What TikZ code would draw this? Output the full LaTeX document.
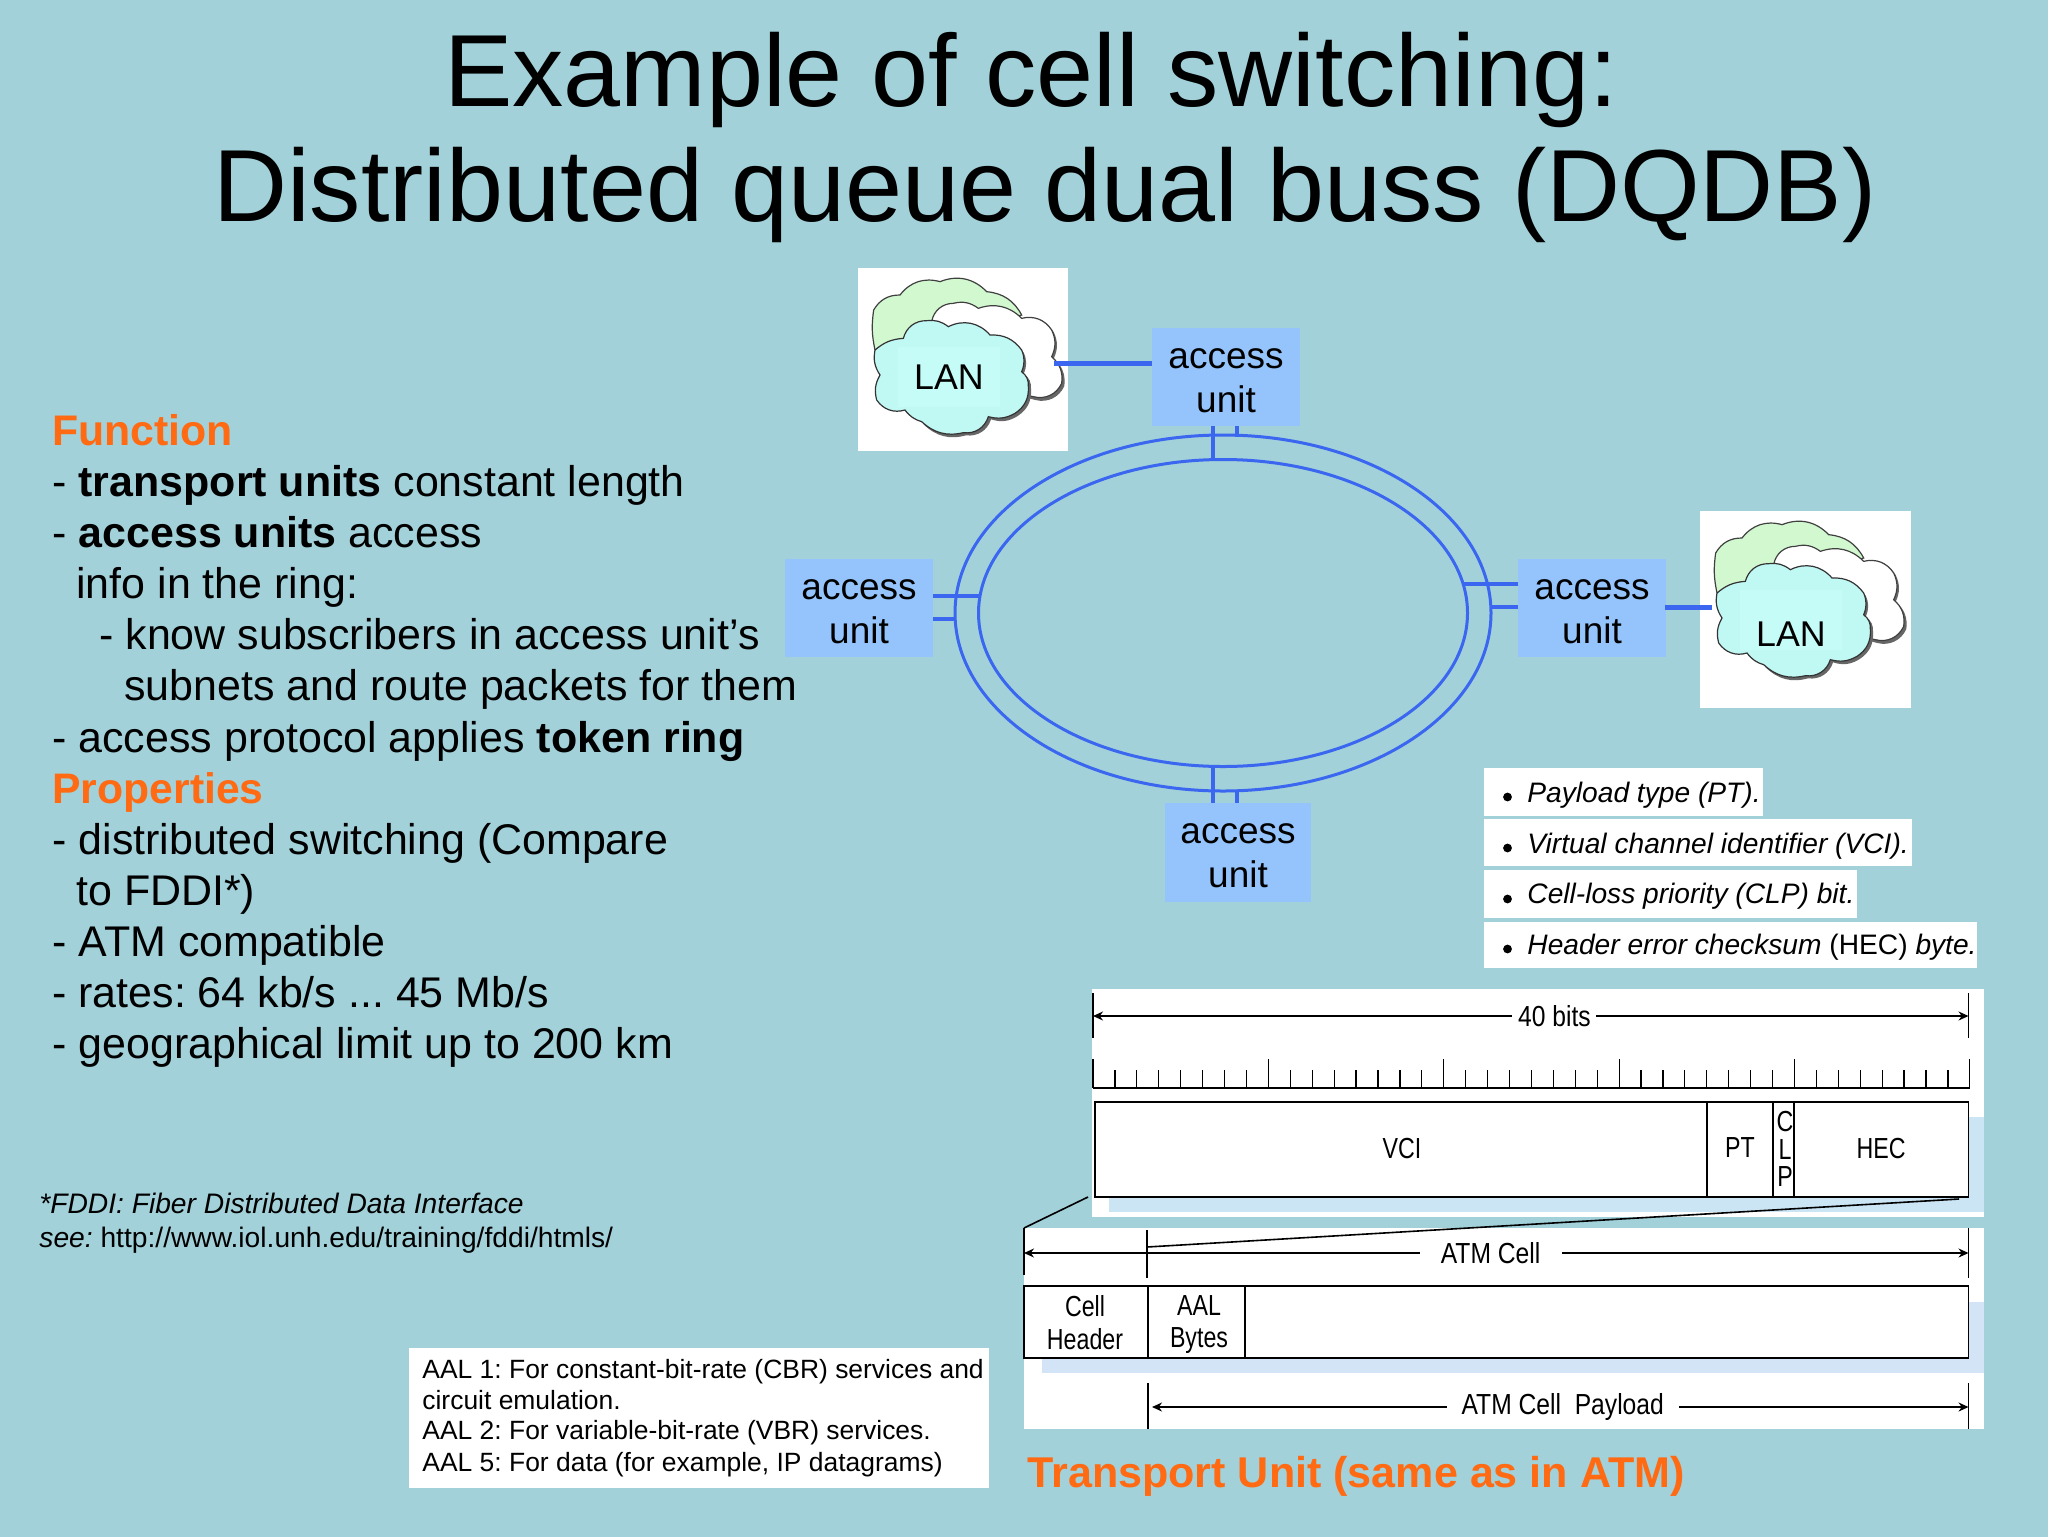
\documentclass[tikz,border=0pt]{standalone}
\usepackage{fontspec}
\setmainfont{Liberation Sans}
\newfontfamily\narrowfont[FakeStretch=0.8]{Liberation Sans}
\newfontfamily\narrowwide[FakeStretch=0.85]{Liberation Sans}
\usetikzlibrary{arrows.meta}
\frenchspacing
\definecolor{bgc}{HTML}{A2D1DA}
\definecolor{ringc}{HTML}{3A66F0}
\definecolor{auc}{HTML}{94C4FB}
\definecolor{orng}{HTML}{FF6A13}
\definecolor{shadeA}{HTML}{CBE5F5}
\definecolor{shadeB}{HTML}{D3E4F7}
\definecolor{cloudG}{HTML}{D2F8D0}
\definecolor{cloudC}{HTML}{C0F8F4}
\definecolor{cloudL}{HTML}{C5FCF8}
\newcommand{\fs}[1]{\fontsize{#1pt}{#1pt}\selectfont}
\tikzset{
  x=0.5pt,y=-0.5pt,
  txt/.style={anchor=base west,inner sep=0pt,font=\fs{21.47}},
  ttl/.style={anchor=base,inner sep=0pt,font=\fs{51.25}},
  foot/.style={anchor=base west,inner sep=0pt,font=\fs{14.1}},
  aal/.style={anchor=base west,inner sep=0pt,font=\fs{13.22}},
  bul/.style={anchor=base west,inner sep=0pt,font=\fs{14.08}\itshape},
  unitbox/.style={fill=auc,inner sep=0pt},
  unittext/.style={inner sep=0pt,align=center,font=\fs{18.5}},
  ring/.style={draw=ringc,line width=1.5pt},
  stubthick/.style={draw=ringc,line width=2pt},
  lanlink/.style={draw=ringc,line width=2.5pt},
  dim/.style={draw=black,line width=0.65pt,{Stealth[length=5pt,width=4.5pt]}-{Stealth[length=5pt,width=4.5pt]}},
  thin line/.style={draw=black,line width=0.6pt},
  frame/.style={draw=black,line width=0.9pt},
  lab/.style={inner sep=0pt,font=\narrowfont\fs{14.5},align=center},
  gaplab/.style={lab,fill=white,minimum height=22pt,font=\narrowwide\fs{14.5}},
}
\newcommand{\LanCloud}[2]{%
\begin{scope}[shift={(#1,#2)},x=0.16667pt,y=-0.16667pt]
  % back green cloud
  \path[fill=cloudG,draw=black!75,line width=0.6pt]
    (105,300) to[bend left=10] (101,180) to[bend left=30] (180,135) to[bend left=34] (300,95)
    to[bend left=34] (440,125) to[bend left=28] (545,195) -- (300,280) -- cycle;
  % white cloud shadow
  \path[fill=black!60]
    (281,221) to[bend left=40] (346,166) to[bend left=25] (421,181) to[bend left=32] (551,211)
    to[bend left=35] (641,246) to[bend left=25] (641,326) to[bend left=28] (673,408)
    to[bend left=40] (586,450) -- (400,400) -- cycle;
  % white cloud
  \path[fill=white,draw=black!75,line width=0.6pt]
    (275,215) to[bend left=40] (340,160) to[bend left=25] (415,175) to[bend left=32] (545,205)
    to[bend left=35] (635,240) to[bend left=25] (635,320) to[bend left=28] (665,400)
    to[bend left=40] (580,440) -- (400,400) -- cycle;
  % cyan cloud shadow
  \path[fill=black!60]
    (550,306) to[bend left=25] (551,371) to[bend left=30] (573,418) to[bend left=30] (533,498)
    to[bend left=25] (453,508) to[bend left=40] (378,556) to[bend left=30] (251,523)
    -- (300,400) -- cycle;
  % cyan cloud
  \path[fill=cloudC,draw=black!80,line width=0.6pt]
    (105,300) to[bend left=18] (190,265) to[bend left=38] (260,212) to[bend left=22] (325,230)
    to[bend left=38] (450,255) to[bend left=28] (545,300) to[bend left=22] (545,365)
    to[bend left=28] (565,410) to[bend left=30] (525,490) to[bend left=22] (445,500)
    to[bend left=40] (370,548) to[bend left=28] (245,515) to[bend left=18] (195,480)
    to[bend left=36] (110,450) to[bend left=22] (120,375) to[bend left=22] cycle;
  \fill[cloudL] (175,292) rectangle (480,470);
\end{scope}}
\begin{document}
\begin{tikzpicture}
\useasboundingbox (0,0) rectangle (2048,1536);
\fill[bgc] (-6,-6) rectangle (2054,1542);

% title
\node[ttl] (title1) at (1031,106) {Example of cell switching:};
\node[ttl] (title2) at (1045,221) {Distributed queue dual buss (DQDB)};

% left text
\node[txt,text=orng,font=\fs{21.4}\bfseries] (l0) at (52,445) {Function};
\node[txt] (l1) at (52,496) {- \textbf{transport units} constant length};
\node[txt] (l2) at (52,547) {- \textbf{access units} access};
\node[txt] (l3) at (76,598) {info in the ring:};
\node[txt] (l4) at (99,649) {- know subscribers in access unit’s};
\node[txt] (l5) at (124,700) {subnets and route packets for them};
\node[txt] (l6) at (52,752) {- access protocol applies \textbf{token ring}};
\node[txt,text=orng,font=\fs{21.35}\bfseries] (l7) at (52,803) {Properties};
\node[txt] (l8) at (52,854) {- distributed switching (Compare};
\node[txt] (l9) at (76,905) {to FDDI*)};
\node[txt] (l10) at (52,956) {- ATM compatible};
\node[txt] (l11) at (52,1007) {- rates: 64 kb/s ... 45 Mb/s};
\node[txt] (l12) at (52,1058) {- geographical limit up to 200 km};

% footnote
\node[foot] (f1) at (39,1213) {\itshape *FDDI: Fiber Distributed Data Interface};
\node[foot] (f2) at (39,1247) {\textit{see:} http://www.iol.unh.edu/training/fddi/htmls/};

% AAL box
\fill[white] (409,1348) rectangle (989,1488);
\node[aal] (a1) at (422,1378) {AAL 1: For constant-bit-rate (CBR) services and};
\node[aal] (a2) at (422,1409) {circuit emulation.};
\node[aal] (a3) at (422,1439) {AAL 2: For variable-bit-rate (VBR) services.};
\node[aal] (a4) at (422,1471) {AAL 5: For data (for example, IP datagrams)};

% LAN pictures
\fill[white] (858,268) rectangle (1068,451);
\LanCloud{840}{250}
\node[inner sep=0pt,font=\fs{17.9}] (lanA) at (949,377) {LAN};
\fill[white] (1700,511) rectangle (1911,708);
\LanCloud{1682}{493}
\node[inner sep=0pt,font=\fs{17.9}] (lanB) at (1791,634) {LAN};

% ring
\draw[ring] (1223,613) ellipse [x radius=268,y radius=178];
\draw[ring] (1223,613) ellipse [x radius=244.5,y radius=153.5];

% access units
\node[unitbox,minimum width=74pt,minimum height=49pt] (auT) at (1226,377) {};
\node[unitbox,minimum width=74pt,minimum height=49pt] (auL) at (859,608) {};
\node[unitbox,minimum width=74pt,minimum height=49pt] (auR) at (1592,608) {};
\node[unitbox,minimum width=73pt,minimum height=49.5pt] (auB) at (1238,852) {};
\node[unittext] (auTt) at (1226,381) {access\\[3.6pt]unit};
\node[unittext] (auLt) at (859,612) {access\\[3.6pt]unit};
\node[unittext] (auRt) at (1592,612) {access\\[3.6pt]unit};
\node[unittext] (auBt) at (1238,856) {access\\[3.6pt]unit};

% stubs and LAN links
\coordinate (tA) at (1213,426); \coordinate (tAe) at (1213,460);
\coordinate (tB) at (1237,426); \coordinate (tBe) at (1237,437);
\coordinate (lA) at (933,596);  \coordinate (lAe) at (979,596);
\coordinate (lB) at (933,619);  \coordinate (lBe) at (955,619);
\coordinate (rA) at (1518,584); \coordinate (rAe) at (1464,584);
\coordinate (rB) at (1518,607); \coordinate (rBe) at (1491,607);
\coordinate (bA) at (1213,803); \coordinate (bAe) at (1213,767);
\coordinate (bB) at (1237,803); \coordinate (bBe) at (1237,791);
\foreach \p/\q in {tA/tAe,tB/tBe,lA/lAe,lB/lBe,rA/rAe,rB/rBe,bA/bAe,bB/bBe}
  \draw[stubthick] (\p) -- (\q);
\coordinate (lnA) at (1054,363); \coordinate (lnAe) at (1152,363);
\coordinate (lnB) at (1665,607); \coordinate (lnBe) at (1712,607);
\draw[lanlink] (lnA) -- (lnAe);
\draw[lanlink] (lnB) -- (lnBe);

% bullets
\fill[white] (1484,768) rectangle (1763,816);
\fill[white] (1484,819) rectangle (1912,866);
\fill[white] (1484,870) rectangle (1857,918);
\fill[white] (1484,922) rectangle (1977,968);
\foreach \y in {797,848,899,949} \fill[black] (1507.5,\y) circle (2.2pt);
\node[bul] (b1) at (1527,802) {Payload type (PT).};
\node[bul] (b2) at (1527,853) {Virtual channel identifier (VCI).};
\node[bul] (b3) at (1527,903) {Cell-loss priority (CLP) bit.};
\node[bul] (b4) at (1527,954) {Header error checksum \textup{(HEC)} byte.};

% upper panel
\fill[white] (1092,989) rectangle (1984,1217);
\fill[shadeA] (1968,1117) rectangle (1984,1212);
\fill[shadeA] (1109,1197) rectangle (1984,1212);
\coordinate (d1a) at (1093,1016); \coordinate (d1b) at (1968.5,1016);
\draw[thin line] (1093,993) -- (1093,1038);
\draw[thin line] (1968.5,993) -- (1968.5,1038);
\draw[dim] (d1a) -- node[gaplab,minimum width=42pt,pos=0.527] (l40) {40 bits} (d1b);
% ruler
\draw[frame] (1093,1088) -- (1970,1088);
\foreach \i in {0,...,40}{
  \pgfmathsetmacro{\xx}{1093+21.92*\i}
  \pgfmathtruncatemacro{\mm}{mod(\i,8)}
  \ifnum\mm=0 \draw[thin line] (\xx,1088) -- (\xx,1059);
  \else \draw[thin line] (\xx,1088) -- (\xx,1070); \fi}
% cell header table
\draw[frame,fill=white] (1095,1102) rectangle (1968.5,1197);
\draw[thin line] (1707,1102) -- (1707,1197);
\draw[thin line] (1773,1102) -- (1773,1197);
\draw[thin line] (1794,1102) -- (1794,1197);
\node[lab] (vci) at (1402,1148) {VCI};
\node[lab] (pt) at (1740,1148) {PT};
\node[lab] (c1) at (1785,1122) {C};
\node[lab] (c2) at (1785,1150) {L};
\node[lab] (c3) at (1785,1177) {P};
\node[lab] (hec) at (1881,1148) {HEC};

% lower panel
\fill[white] (1024,1228) rectangle (1984,1429);
\fill[shadeB] (1968,1302) rectangle (1984,1373);
\fill[shadeB] (1042,1358) rectangle (1984,1373);
\draw[thin line] (1024,1228) -- (1024,1275);
\draw[thin line] (1147,1230) -- (1147,1278);
\draw[thin line] (1968.5,1228) -- (1968.5,1278);
\coordinate (d2a) at (1024,1253); \coordinate (d2b) at (1968.5,1253);
\draw[dim] (d2a) -- node[gaplab,minimum width=71pt,pos=0.494] (latm) {ATM Cell} (d2b);
\draw[frame,fill=white] (1024,1286) rectangle (1968.5,1358);
\draw[thin line] (1148,1286) -- (1148,1358);
\draw[thin line] (1245,1286) -- (1245,1358);
\node[lab] (ch1) at (1085,1306) {Cell};
\node[lab] (ch2) at (1085,1339) {Header};
\node[lab] (ab1) at (1199,1306) {AAL};
\node[lab] (ab2) at (1199,1341) {Bytes};
\draw[thin line] (1148,1383) -- (1148,1429);
\draw[thin line] (1968.5,1383) -- (1968.5,1429);
\coordinate (d3a) at (1152,1407); \coordinate (d3b) at (1968.5,1407);
\draw[dim] (d3a) -- node[gaplab,minimum width=116pt,pos=0.503] (lpay) {ATM Cell\ \ Payload} (d3b);

% zoom lines
\coordinate (zA) at (1088,1197); \coordinate (zB) at (1024,1228);
\coordinate (zC) at (1959,1199); \coordinate (zD) at (1147,1247);
\draw[draw=black,line width=0.8pt] (zA) -- (zB);
\draw[draw=black,line width=0.8pt] (zC) -- (zD);

% bottom caption
\node[txt,text=orng,font=\fs{21.53}\bfseries] (cap) at (1027,1487) {Transport Unit (same as in ATM)};
\end{tikzpicture}
\end{document}
